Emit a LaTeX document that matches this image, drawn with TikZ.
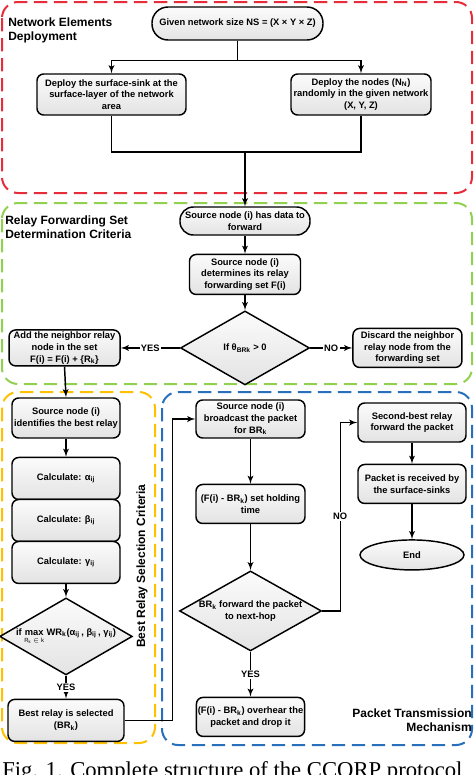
\documentclass[tikz,border=0pt]{standalone}
\usepackage{fontspec}
\setmainfont{Liberation Sans}
\newfontfamily\capserif{Liberation Serif}
\usepackage{tikz}
\usetikzlibrary{shapes.geometric, arrows, positioning, calc, backgrounds}
\usepackage{xcolor}

\definecolor{framered}{RGB}{232,45,58}
\definecolor{framegreen}{RGB}{146,208,80}
\definecolor{frameorange}{RGB}{255,192,0}
\definecolor{frameblue}{RGB}{40,112,188}

\newcommand{\boxfont}{\fontsize{7}{8.75}\selectfont\bfseries}
\newcommand{\areafont}{\fontsize{9}{10.5}\selectfont\bfseries}
\newcommand{\maxunder}{\begin{tabular}[t]{@{}c@{}}max\\[-3.5pt]{\fontsize{4.5}{5}\selectfont\mdseries R\textsubscript{k} $\in$ k}\end{tabular}}

\begin{document}
\begin{tikzpicture}[
    x=0.75pt, y=-0.75pt,
    box/.style={rectangle, rounded corners=5pt, draw, line width=1.1pt, top color=gray!3, bottom color=gray!22, align=center, font=\boxfont, inner sep=1pt, minimum width=81pt, minimum height=29.25pt},
    terminal/.style={box, rounded corners=10pt},
    decision/.style={diamond, draw, line width=1.1pt, top color=gray!3, bottom color=gray!22, aspect=1.75, inner sep=0pt, align=center, font=\boxfont},
    stop/.style={ellipse, draw, line width=1.1pt, top color=gray!3, bottom color=gray!22, minimum width=78pt, minimum height=22.5pt, font=\boxfont},
    area/.style={dash pattern=on 10pt off 5pt, line width=1.5pt, rounded corners=12pt},
    areatitle/.style={inner sep=0pt, font=\areafont},
    arrow/.style={-latex', line width=1.1pt},
    line/.style={line width=1.1pt},
    tag/.style={fill=white, inner sep=1pt, font=\boxfont}
]
    \useasboundingbox (0,0) rectangle (474,775);

    % dashed areas
    \draw[area, framered] (2,2) rectangle (472,193);
    \draw[area, framegreen] (2,203) rectangle (472,384);
    \draw[area, frameorange] (2,392) rectangle (155,743);
    \draw[area, frameblue] (162,392) rectangle (472,745);

    \node[areatitle, anchor=north west, align=left] (nettitle) at (8,18) {Network Elements\\Deployment};
    \node[areatitle, anchor=north west, align=left] (reltitle) at (5,216) {Relay Forwarding Set\\Determination Criteria};
    \node[areatitle, rotate=90] (besttitle) at (142,566) {Best Relay Selection Criteria};
    \node[areatitle, anchor=north east, align=right] (pkttitle) at (472,709) {Packet Transmission\\Mechanism};

    % network deployment
    \node[terminal, minimum width=128.25pt, minimum height=24.75pt, rounded corners=12pt] (ns) at (237.5,23.5) {Given network size NS = (X × Y × Z)};
    \node[box, minimum width=111.75pt, minimum height=30.75pt] (sink) at (111.5,94.5) {Deploy the surface-sink at the\\surface-layer of the network\\area};
    \node[box, minimum width=105pt, minimum height=30.75pt] (deploy) at (361,94.5) {Deploy the nodes (N\textsubscript{N})\\randomly in the given network\\(X, Y, Z)};

    % relay forwarding set
    \node[terminal, minimum width=97.5pt, minimum height=21pt] (src) at (245,221) {Source node (i) has data to\\forward};
    \node[box, minimum width=83.25pt, minimum height=30pt, below=13.5pt of src] (rfs) {Source node (i)\\determines its relay\\forwarding set F(i)};
    \node[decision, minimum width=96.75pt, minimum height=55.5pt, below=11.25pt of rfs] (cond) {If θ\textsubscript{BRk} > 0};
    \node[box, minimum width=83.25pt, minimum height=27pt, left=44.25pt of cond] (add) {Add the neighbor relay\\node in the set\\F(i) = F(i) + \{R\textsubscript{k}\}};
    \node[box, minimum width=81.75pt, minimum height=29.25pt, right=31.5pt of cond] (discard) {Discard the neighbor\\relay node from the\\forwarding set};

    % best relay selection
    \node[box, minimum height=30pt] (ident) at (66,418) {Source node (i)\\identifies the best relay};
    \node[box, minimum height=31.5pt, below=13.5pt of ident] (calca) {Calculate: α\textsubscript{ij}};
    \node[box, minimum height=31.5pt, below=-1.1pt of calca] (calcb) {Calculate: β\textsubscript{ij}};
    \node[box, minimum height=31.5pt, below=-1.1pt of calcb] (calcc) {Calculate: γ\textsubscript{ij}};
    \node[decision, minimum width=96.75pt, minimum height=57.75pt, below=9.75pt of calcc] (maxd) {if \maxunder\ WR\textsubscript{k}(α\textsubscript{ij}\,, β\textsubscript{ij}\,, γ\textsubscript{ij})};
    \node[box, minimum width=87pt, minimum height=31.5pt, below=17.25pt of maxd] (best) {Best relay is selected\\(BR\textsubscript{k})};

    % packet transmission
    \node[box, minimum width=81.75pt, minimum height=28.5pt] (bcast) at (250.5,419) {Source node (i)\\broadcast the packet\\for BR\textsubscript{k}};
    \node[box, minimum width=81.75pt, below=33.75pt of bcast] (hold) {(F(i) - BR\textsubscript{k}) set holding\\time};
    \node[decision, minimum width=106.5pt, minimum height=60pt, below=34.5pt of hold] (fwd) {BR\textsubscript{k} forward the packet\\to next-hop};
    \node[box, below=33.75pt of fwd] (over) {(F(i) - BR\textsubscript{k}) overhear the\\packet and drop it};
    \node[box] (second) at (412,422.5) {Second-best relay\\forward the packet};
    \node[box, below=15.75pt of second] (recv) {Packet is received by\\the surface-sinks};
    \node[stop, below=26.25pt of recv] (end) {End};

    \node[anchor=base west, inner sep=0pt, font=\capserif\fontsize{17}{20}\selectfont] (caption) at (2,777) {Fig. 1. Complete structure of the CCORP protocol};

    \coordinate (join) at (245,152);

    \draw[arrow] (ns.south) -- ++(0,20) -| (sink.north);
    \draw[arrow] (ns.south) -- ++(0,20) -| (deploy.north);
    \draw[line] (sink.south) |- (join);
    \draw[line] (deploy.south) |- (join);
    \draw[arrow] (join) -- (src.north);
    \draw[arrow] (src) -- (rfs);
    \draw[arrow] (rfs) -- (cond);
    \draw[arrow] (cond) -- node[tag] {YES} (add);
    \draw[arrow] (cond) -- node[tag] {NO} (discard);
    \draw[arrow] (add.south) -- (ident.north);
    \draw[arrow] (ident) -- (calca);
    \draw[arrow] (calcc) -- (maxd);
    \draw[arrow] (maxd) -- node[tag] {YES} (best);
    \draw[arrow] (best.east) -- ++(48,0) |- (bcast.west);
    \draw[arrow] (bcast) -- (hold);
    \draw[arrow] (hold) -- (fwd);
    \draw[arrow] (fwd) -- node[tag] {YES} (over);
    \draw[arrow] (fwd.east) -- ++(18,0) |- node[tag, pos=0.25] {NO} (second.west);
    \draw[arrow] (second) -- (recv);
    \draw[arrow] (recv) -- (end);
\end{tikzpicture}
\end{document}
